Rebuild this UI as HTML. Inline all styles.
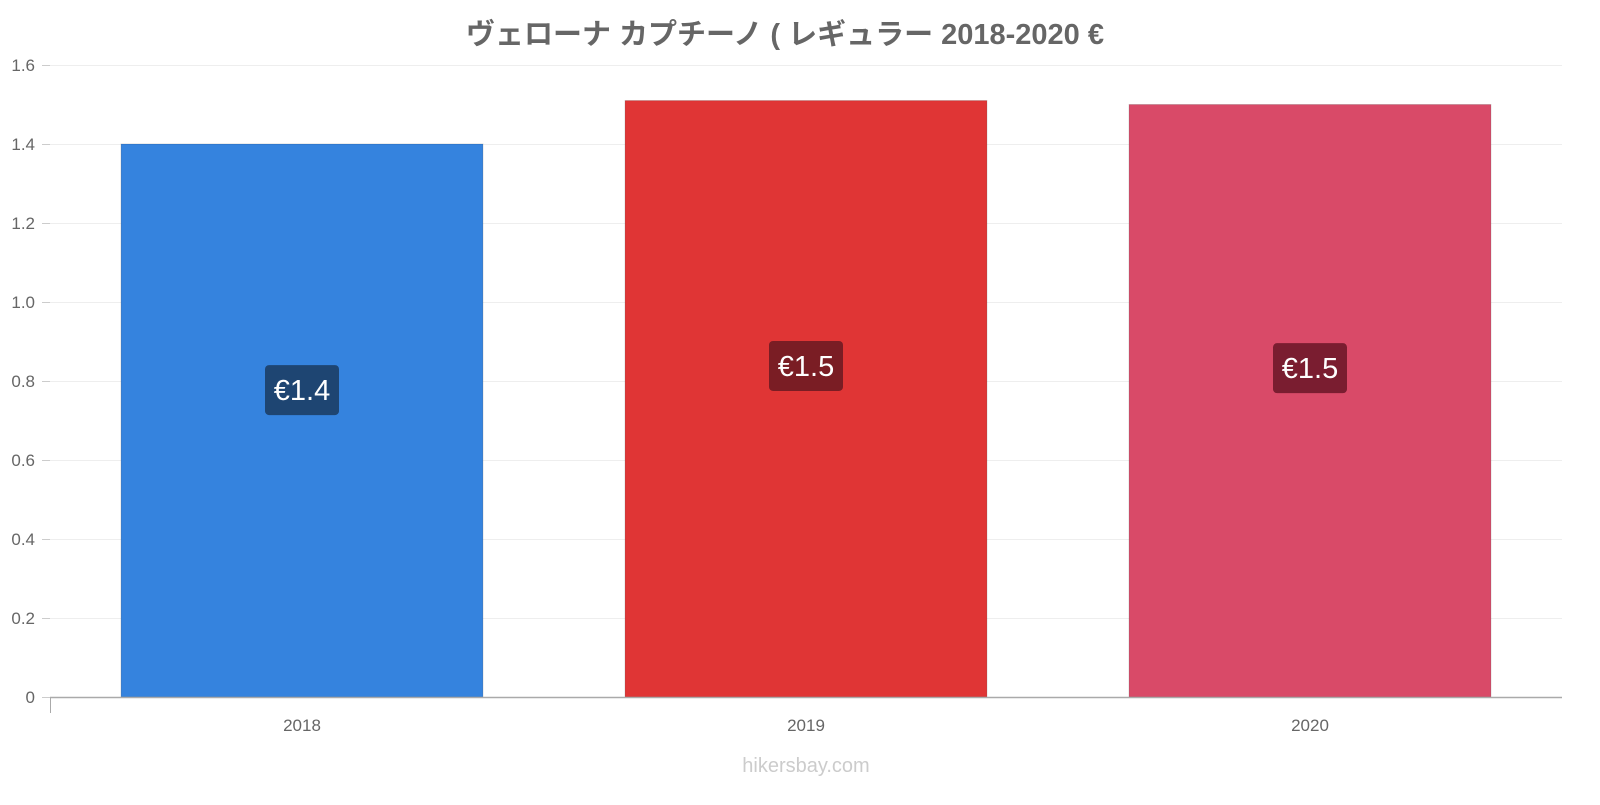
<!DOCTYPE html>
<html><head><meta charset="utf-8"><style>
html,body{margin:0;padding:0;background:#fff;}
svg text{font-family:"Liberation Sans","Noto Sans CJK JP",sans-serif;}
</style></head><body>
<svg id="chart" width="1600" height="800" xmlns="http://www.w3.org/2000/svg">
<text x="785" y="44" text-anchor="middle" font-size="29" font-weight="bold" fill="#666">ヴェローナ カプチーノ ( レギュラー 2018-2020 €</text>
<g id="grid"></g><g id="bars"></g><g id="labels"></g>
<line x1="50" y1="697.5" x2="1562" y2="697.5" stroke="#aaa" stroke-width="1.5"/>
<line x1="50.5" y1="697" x2="50.5" y2="713" stroke="#aaa"/>
<text x="806" y="772" text-anchor="middle" font-size="20" fill="#ccc">hikersbay.com</text>
</svg>
<script>
const categories=["2018","2019","2020"];
const values=[1.4,1.51,1.5];
const valueLabels=["€1.4","€1.5","€1.5"];
const yTicks=[0,0.2,0.4,0.6,0.8,1.0,1.2,1.4,1.6];
const yTickLabels=["0","0.2","0.4","0.6","0.8","1.0","1.2","1.4","1.6"];
const colors=["#3583de","#e03535","#d94a68"];
const labelBg=["#1e4572","#7a1d24","#7a1d30"];
const NS="http://www.w3.org/2000/svg";
const x0=50,x1=1562,y0=697,y1=65,yMax=1.6;
const y=v=>y0-(v/yMax)*(y0-y1);
const band=(x1-x0)/categories.length;
const bx=i=>x0+band*i+band*0.141;
const bw=band*0.718;
function mk(t,a,p){const e=document.createElementNS(NS,t);for(const k in a)e.setAttribute(k,a[k]);p.appendChild(e);return e;}
const grid=document.getElementById('grid'),bars=document.getElementById('bars'),labels=document.getElementById('labels');
yTicks.forEach((t,i)=>{
  if(t>0){const l=mk('line',{x1:x0,x2:x1,y1:y(t)+0.5,y2:y(t)+0.5,stroke:'#eee'},grid);
  
  }
  const tx=mk('text',{x:35,y:y(t)+6,'text-anchor':'end','font-size':17,fill:'#666'},grid);
  tx.textContent=yTickLabels[i];
  
  
  const tk=mk('line',{x1:42,x2:50,y1:y(t)+0.5,y2:y(t)+0.5,stroke:'#ccc'},grid);
  
  
});
categories.forEach((c,i)=>{
  const r=mk('rect',{x:bx(i),y:y(values[i]),width:bw,height:y0-y(values[i]),fill:colors[i],stroke:'rgba(0,0,0,0.15)'},bars);
  
  
  const cx=bx(i)+bw/2, cy=y(values[i]*0.555);
  const b=mk('rect',{x:cx-37,y:cy-25,width:74,height:50,rx:4,fill:labelBg[i]},labels);
  
  
  const t=mk('text',{x:cx,y:cy+10,'text-anchor':'middle','font-size':29,fill:'#fff'},labels);
  t.textContent=valueLabels[i];
  
  
  const xl=mk('text',{x:cx,y:731,'text-anchor':'middle','font-size':17,fill:'#666'},labels);
  xl.textContent=c;
  
  
});
</script>
</body></html>
